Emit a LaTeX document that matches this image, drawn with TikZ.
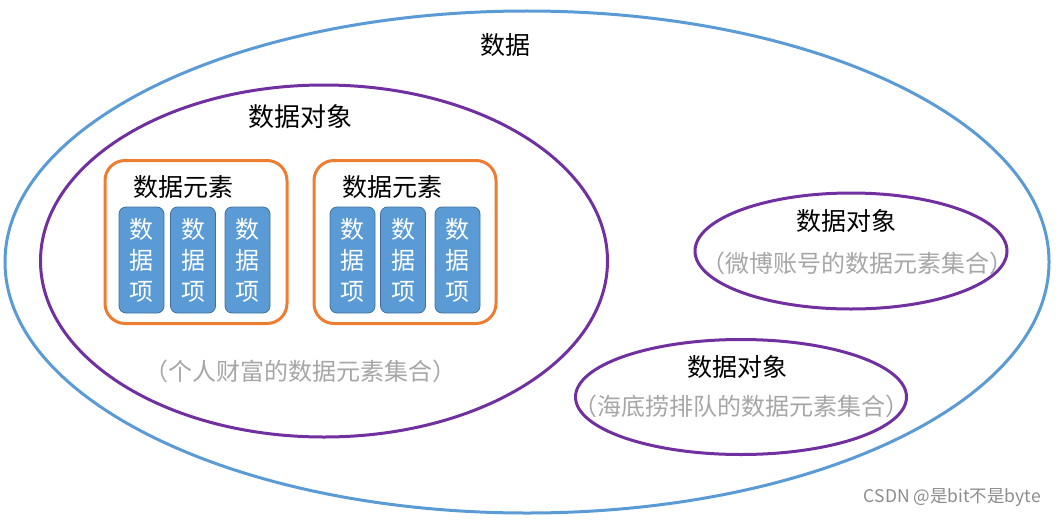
\documentclass[tikz,border=0pt]{standalone}
\usepackage{fontspec}
\usepackage{tikz}
\usetikzlibrary{shapes.geometric}
\newfontfamily\cjk{Noto Sans CJK SC}
\definecolor{setblue}{HTML}{5B9BD5}
\definecolor{objpurple}{HTML}{7030A0}
\definecolor{elemorange}{HTML}{ED7D31}
\definecolor{itemblue}{HTML}{5B9BD5}
\definecolor{itemedge}{HTML}{41719C}
\definecolor{notegray}{HTML}{A6A6A6}

\begin{document}
\begin{tikzpicture}[x=1pt,y=-1pt,
    setellipse/.style={ellipse,draw=setblue,line width=3pt,inner sep=0pt},
    objellipse/.style={ellipse,draw=objpurple,line width=3pt,inner sep=0pt},
    elembox/.style={draw=elemorange,line width=3pt,rounded corners=20pt,
      minimum width=182pt,minimum height=163pt,inner sep=0pt},
    itembox/.style={draw=itemedge,fill=itemblue,line width=0.8pt,rounded corners=7pt,
      minimum width=45pt,minimum height=106pt,inner sep=0pt,text=white,align=center,
      font=\cjk\fontsize{24}{31}\selectfont},
    title/.style={font=\cjk\fontsize{25}{30}\selectfont,inner sep=0pt},
    note/.style={font=\cjk\fontsize{24}{28}\selectfont,text=notegray,inner sep=0pt}]
  \useasboundingbox (0,0) rectangle (1056,519);
  % outer set
  \node[setellipse,minimum width=1044pt,minimum height=502pt] (data) at (527,262) {};
  \node[title] (datalabel) at (505,45) {数据};
  % big data object
  \node[objellipse,minimum width=567pt,minimum height=352pt] (objA) at (324,261) {};
  \node[title,font=\cjk\fontsize{26}{30}\selectfont] (objAlabel) at (300,117) {数据对象};
  \node[note] (objAnote) at (300,371) {（个人财富的数据元素集合）};
  % data elements
  \node[elembox] (elemA) at (196,242) {};
  \node[elembox] (elemB) at (405,242) {};
  \node[title] (elemAlabel) at (183,187) {数据元素};
  \node[title] (elemBlabel) at (392,187) {数据元素};
  % data items
  \node[itembox] (itemA1) at (141.5,260) {数\\据\\项};
  \node[itembox] (itemA2) at (193,260) {数\\据\\项};
  \node[itembox] (itemA3) at (247.5,260) {数\\据\\项};
  \node[itembox] (itemB1) at (352.5,260) {数\\据\\项};
  \node[itembox] (itemB2) at (403,260) {数\\据\\项};
  \node[itembox] (itemB3) at (457.5,260) {数\\据\\项};
  % small data objects
  \node[objellipse,minimum width=312pt,minimum height=116pt] (objB) at (851,251) {};
  \node[title] (objBlabel) at (846,221) {数据对象};
  \node[note] (objBnote) at (857,263) {（微博账号的数据元素集合）};
  \node[objellipse,minimum width=331pt,minimum height=115pt] (objC) at (741,397) {};
  \node[title] (objClabel) at (737,367) {数据对象};
  \node[note] (objCnote) at (741,406) {（海底捞排队的数据元素集合）};
  % watermark
  \node[font=\cjk\fontsize{17.5}{20}\selectfont,text=black!45,anchor=east,inner sep=0pt] (mark) at (1041,498) {CSDN @是bit不是byte};
\end{tikzpicture}
\end{document}
